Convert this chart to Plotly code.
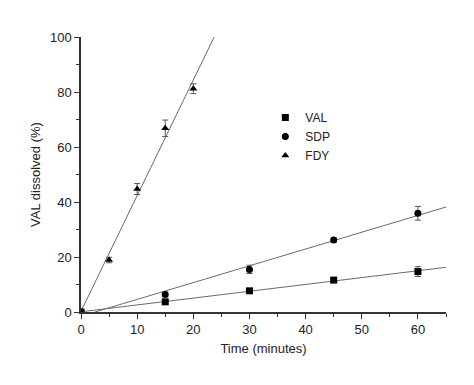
import numpy as np
import plotly.graph_objects as go

time_min = [0, 15, 30, 45, 60]
time_fdy = [0, 5, 10, 15, 20]

val_vals = [0, 3.7, 7.7, 11.6, 14.7]
val_err = [0, 0.5, 0.7, 0.5, 1.8]
sdp_vals = [0, 6.4, 15.5, 26.2, 35.9]
sdp_err = [0, 0.8, 1.5, 0.8, 2.5]
fdy_vals = [0, 18.9, 44.7, 66.8, 81.2]
fdy_err = [0, 1.0, 2.0, 3.0, 1.8]

X_MAX, Y_MAX = 65, 100

fig = go.Figure()

series = [
    ("VAL", time_min, val_vals, val_err, "square"),
    ("SDP", time_min, sdp_vals, sdp_err, "circle"),
    ("FDY", time_fdy, fdy_vals, fdy_err, "triangle-up"),
]

# linear fits
for name, xs, ys, es, sym in series:
    m, b = np.polyfit(xs, ys, 1)
    x0 = max(0.0, -b / m)
    x1 = min(X_MAX, (Y_MAX - b) / m)
    fig.add_trace(go.Scatter(x=[x0, x1], y=[m * x0 + b, m * x1 + b], mode="lines",
                             line=dict(color="#6a6a6a", width=1), showlegend=False,
                             hoverinfo="skip"))

for name, xs, ys, es, sym in series:
    fig.add_trace(go.Scatter(
        x=xs, y=ys, mode="markers", name=name,
        marker=dict(symbol=sym, size=7, color="black"),
        error_y=dict(type="data", array=es, visible=True, color="#555555",
                     thickness=1, width=3),
    ))

font = dict(family="Liberation Sans, Arial, sans-serif", size=12, color="#222222")

fig.update_layout(
    width=474, height=385,
    margin=dict(l=81, r=28, t=37, b=73),
    paper_bgcolor="white", plot_bgcolor="white",
    font=font,
    showlegend=True,
    legend=dict(x=0.505, y=0.76, xanchor="left", yanchor="top",
                bgcolor="rgba(0,0,0,0)", font=dict(size=12, color="#222222"),
                itemwidth=30, tracegroupgap=0),
    xaxis=dict(range=[0, X_MAX], tick0=0, dtick=10, ticks="outside", ticklen=5,
               tickwidth=1, tickcolor="#333", showline=True, linecolor="#333",
               linewidth=1.5, showgrid=False, zeroline=False,
               tickfont=dict(size=13),
               minor=dict(dtick=5, ticks="outside", ticklen=3, tickcolor="#333"),
               title=dict(text="Time (minutes)", standoff=8, font=dict(size=13))),
    yaxis=dict(range=[0, Y_MAX], tick0=0, dtick=20, ticks="outside", ticklen=5,
               tickwidth=1, tickcolor="#333", showline=True, linecolor="#333",
               linewidth=1.5, showgrid=False, zeroline=False,
               tickfont=dict(size=13),
               minor=dict(dtick=10, ticks="outside", ticklen=3, tickcolor="#333"),
               title=dict(text="VAL dissolved (%)", standoff=6, font=dict(size=13))),
)

fig.write_html("out.html")
